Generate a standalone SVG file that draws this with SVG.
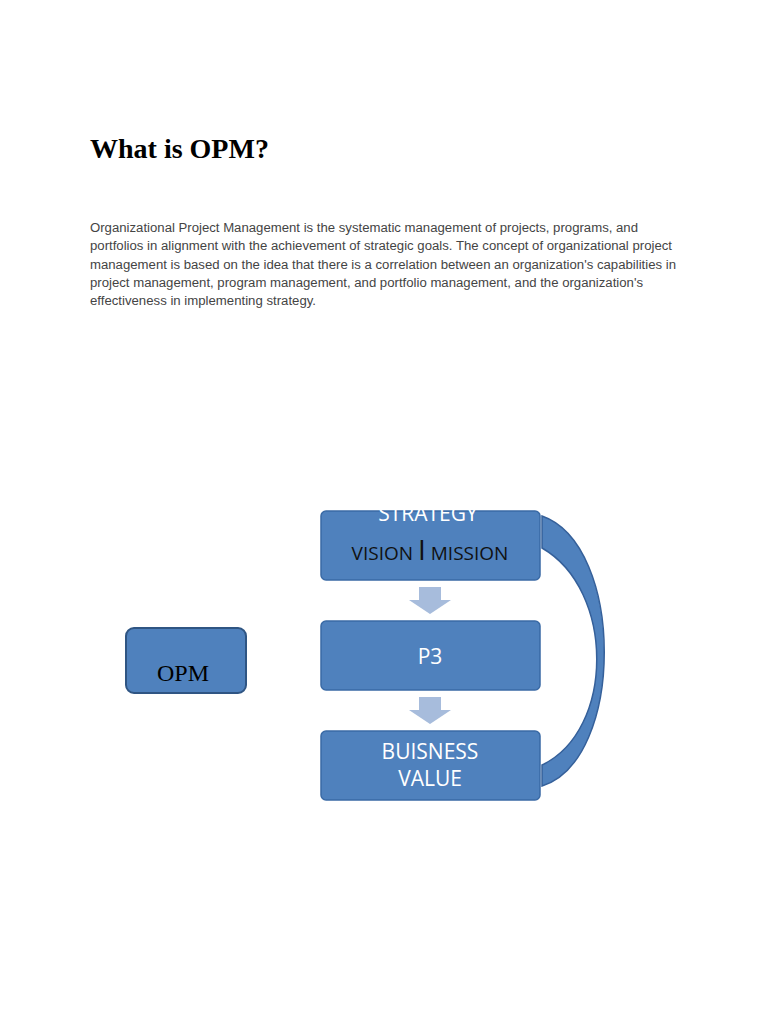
<svg xmlns="http://www.w3.org/2000/svg" width="768" height="1024" viewBox="0 0 768 1024">
<style>
.box{fill:#4f81bd;stroke:#3a6aa5;stroke-width:1.5}
.w{font-family:"Open Sans","Liberation Sans",sans-serif;fill:#fff;font-size:21px;text-anchor:middle}
.b{font-family:"Liberation Sans",sans-serif;fill:#444;font-size:12.5px}
.arr{fill:#a7bcdc}
</style>
<rect width="768" height="1024" fill="#fff"/>
<text x="90" y="158" font-family="Liberation Serif,serif" font-weight="bold" font-size="28" fill="#000">What is OPM?</text>
<g class="b">
<text x="90" y="232" textLength="548" lengthAdjust="spacingAndGlyphs">Organizational Project Management is the systematic management of projects, programs, and</text>
<text x="90" y="250" textLength="582" lengthAdjust="spacingAndGlyphs">portfolios in alignment with the achievement of strategic goals. The concept of organizational project</text>
<text x="90" y="269" textLength="586" lengthAdjust="spacingAndGlyphs">management is based on the idea that there is a correlation between an organization's capabilities in</text>
<text x="90" y="287" textLength="553" lengthAdjust="spacingAndGlyphs">project management, program management, and portfolio management, and the organization's</text>
<text x="90" y="305" textLength="226" lengthAdjust="spacingAndGlyphs">effectiveness in implementing strategy.</text>
</g>
<g id="opm"><rect x="126" y="628" width="120" height="65" rx="8" fill="#4f81bd" stroke="#2f5583" stroke-width="2"/>
<text x="183" y="681" font-family="Liberation Serif,serif" font-size="24" text-anchor="middle" fill="#000">OPM</text></g>
<g id="strategy"><rect class="box" x="321" y="511" width="219" height="69" rx="5"/>
<text class="w" x="428" y="521" font-size="18">STRATEGY</text>
<text class="w" x="430" y="560" fill="#111" style="fill:#111;font-size:19px">VISION  <tspan font-size="28">I</tspan>  MISSION</text></g>
<g id="p3"><rect class="box" x="321" y="621" width="219" height="69" rx="5"/><text class="w" x="430" y="664">P3</text></g>
<g id="bv"><rect class="box" x="321" y="731" width="219" height="69" rx="5"/><text class="w" x="430" y="759">BUISNESS</text><text class="w" x="430" y="786">VALUE</text></g>
<g id="connectors">
<path class="arr" d="M419,587 H441 V600 H451 L430,614 L409,600 H419 Z"/>
<path class="arr" d="M419,697 H441 V710 H451 L430,724 L409,710 H419 Z"/>
<path d="M542,516 C625,545 625,760 542,786 L542,765 C615,730 615,590 542,548 Z" fill="#4f81bd" stroke="#35609a" stroke-width="1.5"/>
</g>
</svg>
